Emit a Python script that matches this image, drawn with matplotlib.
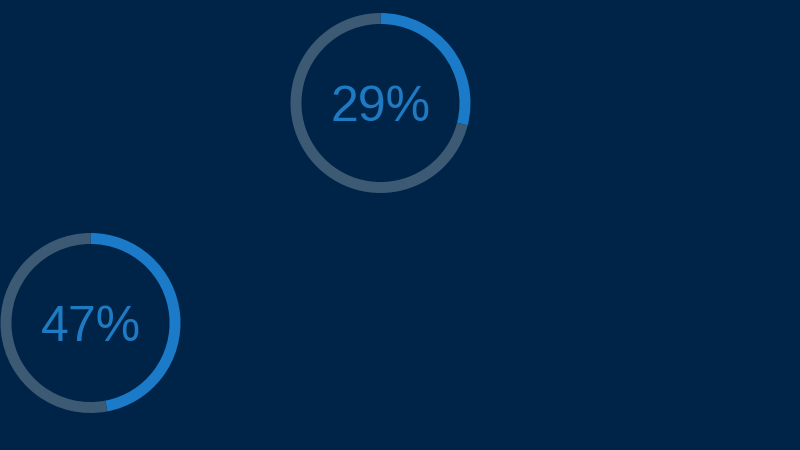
import matplotlib
matplotlib.use("Agg")
import matplotlib.pyplot as plt

# data
labels = ["29%", "47%"]
values = [29, 47]

BG = "#002447"
TRACK = "#3d5a74"
FILL = "#1b7bc8"
TEXT = "#1f7ac4"

W, H = 800, 450
fig = plt.figure(figsize=(8, 4.5), dpi=100, facecolor=BG)

# layout: centers (px) and outer radius (px)
centers = [(380.5, 103), (90.5, 323)]
R = 90
ring = 0.122

for (cx, cy), v, lab in zip(centers, values, labels):
    ax = fig.add_axes([(cx - R) / W, (H - cy - R) / H, 2 * R / W, 2 * R / H])
    ax.set_facecolor("none")
    ax.pie([v, 100 - v], colors=[FILL, TRACK], startangle=90, counterclock=False,
           radius=1.0, wedgeprops=dict(width=ring, linewidth=0))
    ax.set_xlim(-1, 1)
    ax.set_ylim(-1, 1)
    ax.set_aspect("auto")
    ax.axis("off")
    ax.text(0, 0, lab, ha="center", va="center_baseline", color=TEXT,
            fontsize=36, family="Liberation Sans")

fig.savefig("out.png", dpi=100, facecolor=BG)
